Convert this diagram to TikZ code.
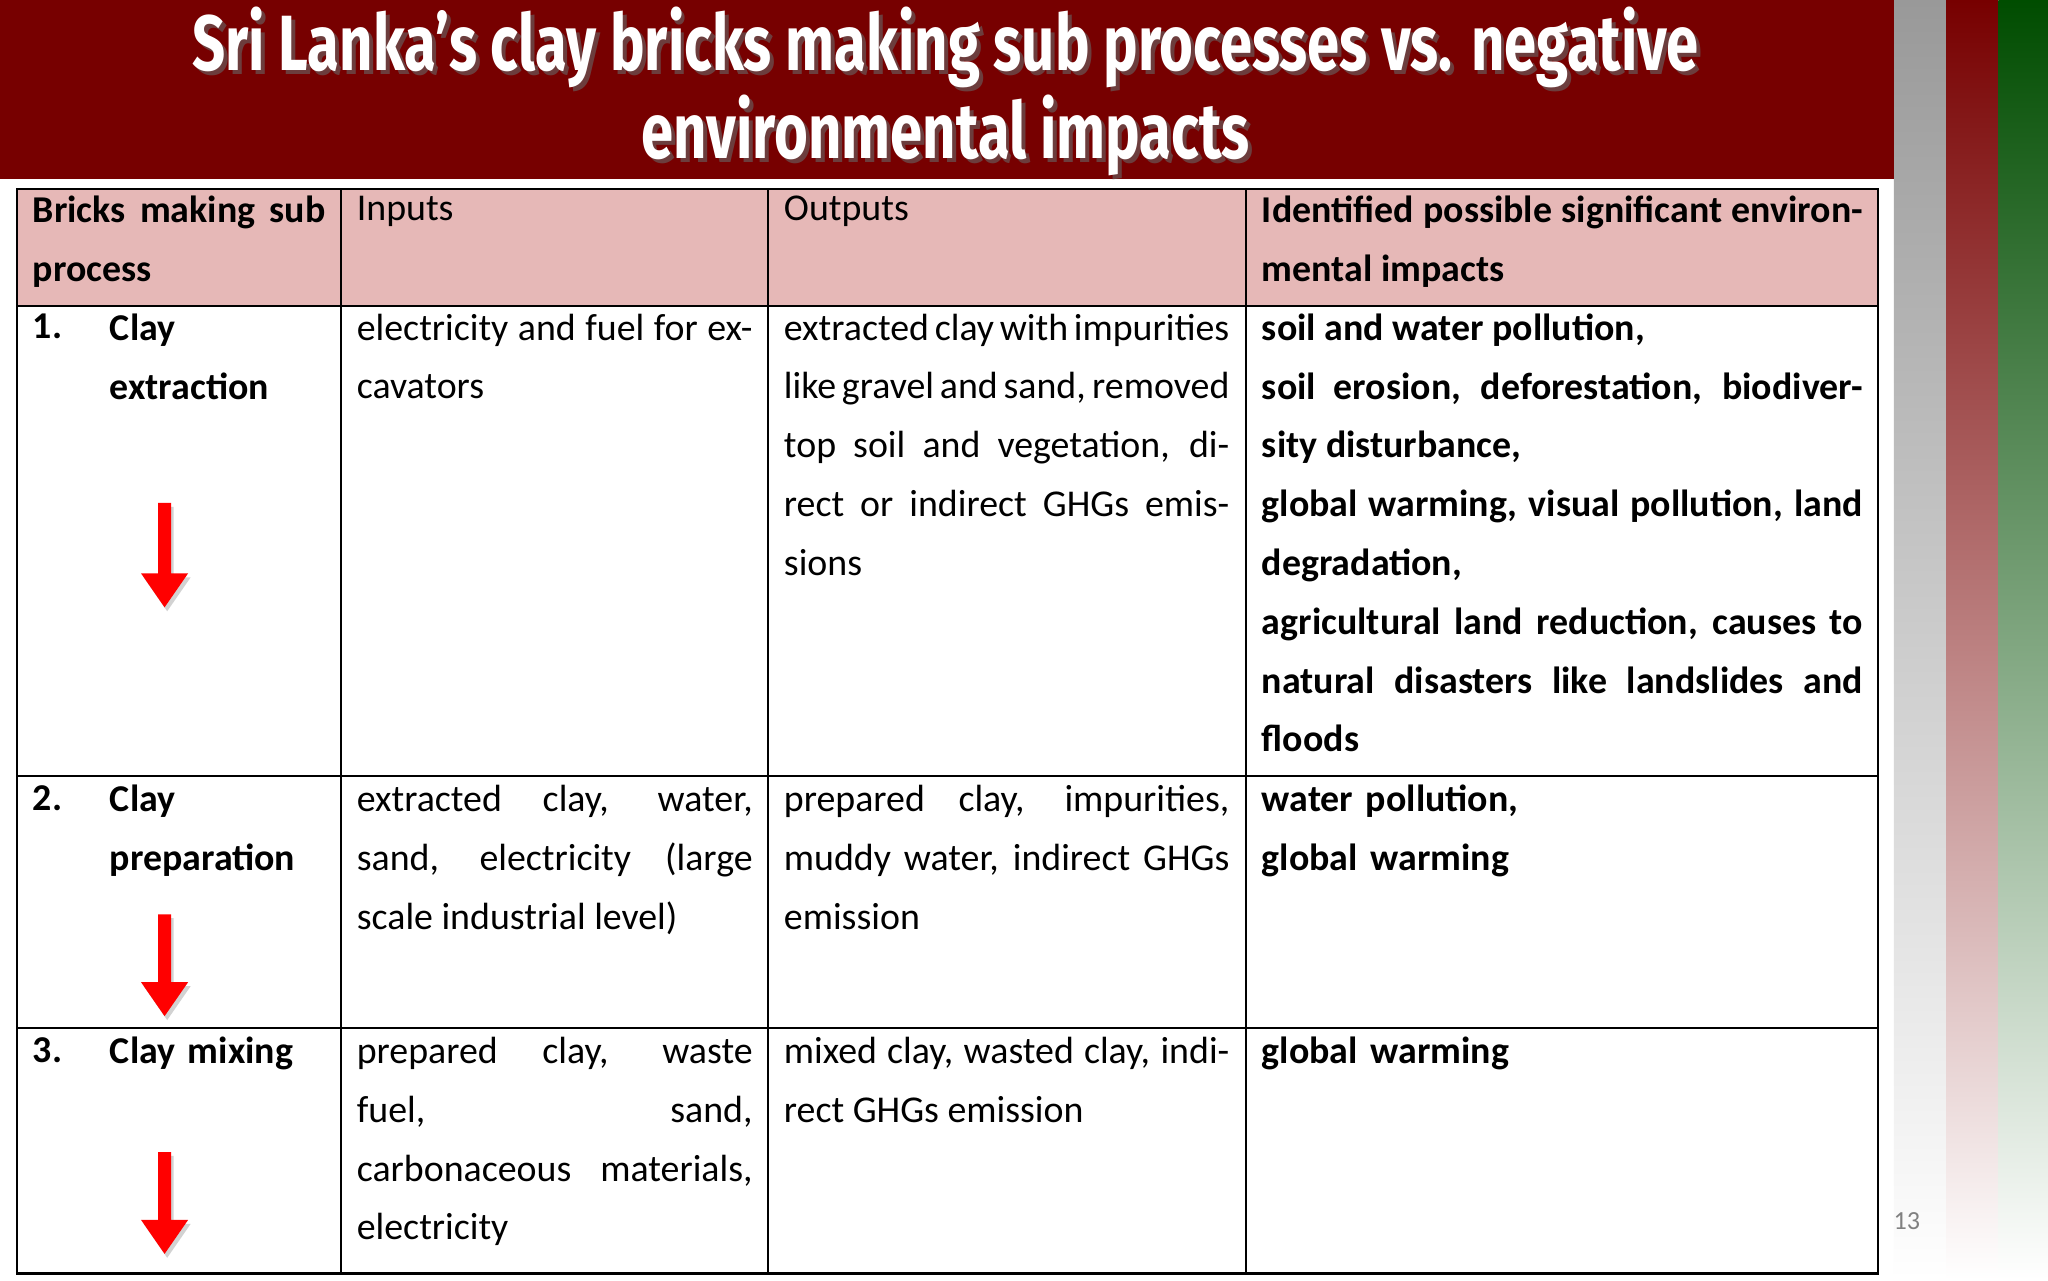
\documentclass[tikz,border=0pt]{standalone}
\usepackage{fontspec}
\setmainfont{Carlito}
\newfontfamily\titlefont[FakeStretch=0.74]{Fira Sans}
\usetikzlibrary{shadows}
\definecolor{titlered}{HTML}{770000}
\definecolor{headpink}{HTML}{E6B8B7}
\tikzset{
 cell/.style={anchor=north west,inner sep=0pt,align=justify,font=\fontsize{29}{45}\selectfont},
 bcell/.style={cell,font=\fontsize{29}{45}\selectfont\bfseries},
 grid/.style={line width=1.6pt,black},
 downarrow/.style={fill=red,draw=none,drop shadow={shadow xshift=2pt,shadow yshift=-3pt,opacity=0.35}},
 titletext/.style={text=white,font=\titlefont\bfseries\fontsize{60}{68}\selectfont,align=center}
}
\begin{document}
\begin{tikzpicture}[x=1pt,y=-1pt]
\useasboundingbox (0,0) rectangle (1568,980);
\fill[white] (0,0) rectangle (1568,980);
% right decorative strips
\shade[top color=gray!80,bottom color=white] (1450,0) rectangle (1490,980);
\shade[top color=titlered,bottom color=white] (1490,0) rectangle (1530,980);
\shade[top color=green!30!black,bottom color=white] (1530,0) rectangle (1568,980);
% title bar
\fill[titlered] (0,0) rectangle (1450,137);
\node[titletext,text=black!60,opacity=0.6] at (727,73) {Sri Lanka’s clay bricks making sub processes vs. negative\\environmental impacts};
\node[titletext] (title) at (724,70) {Sri Lanka’s clay bricks making sub processes vs. negative\\environmental impacts};
% table
\fill[headpink] (13,145) rectangle (1438,234);
\draw[grid] (13,145) rectangle (1438,975);
\foreach \y in {234,594,787} \draw[grid] (13,\y) -- (1438,\y);
\foreach \x in {261,588,954} \draw[grid] (\x,145) -- (\x,975);
% header
\node[bcell,text width=224pt] (h1) at (25,150) {Bricks making sub process};
\node[cell,text width=303pt] (h2) at (273,150) {Inputs};
\node[cell,text width=341pt] (h3) at (600,150) {Outputs};
\node[bcell,text width=460pt] (h4) at (966,150) {Identified possible significant environmental impacts};
% row 1
\node[bcell] (n1) at (25,240) {1.};
\node[bcell,text width=165pt,align=left] (p1) at (84,240) {Clay\\extraction};
\node[cell,text width=303pt] (i1) at (273,240) {electricity and fuel for excavators};
\node[cell,text width=341pt] (o1) at (600,240) {extracted clay with impurities like gravel and sand, removed top soil and vegetation, direct or indirect GHGs emissions};
\node[bcell,text width=460pt] (e1) at (966,240) {soil and water pollution,\\ soil erosion, deforestation, biodiversity disturbance,\\ global warming, visual pollution, land degradation,\\ agricultural land reduction, causes to natural disasters like landslides and floods};
% row 2
\node[bcell] (n2) at (25,601) {2.};
\node[bcell,text width=170pt,align=left] (p2) at (84,601) {Clay\\preparation};
\node[cell,text width=303pt] (i2) at (273,601) {extracted clay, water, sand, electricity (large scale industrial level)};
\node[cell,text width=341pt] (o2) at (600,601) {prepared clay, impurities, muddy water, indirect GHGs emission};
\node[bcell,text width=460pt,align=left] (e2) at (966,601) {water pollution,\\global warming};
% row 3
\node[bcell] (n3) at (25,794) {3.};
\node[bcell,text width=170pt,align=left] (p3) at (84,794) {Clay mixing};
\node[cell,text width=303pt] (i3) at (273,794) {prepared clay, waste fuel,\hfill sand,\break carbonaceous materials, electricity};
\node[cell,text width=341pt] (o3) at (600,794) {mixed clay, wasted clay, indirect GHGs emission};
\node[bcell,text width=460pt,align=left] (e3) at (966,794) {global warming};
% arrows
\foreach \t/\b in {385/465, 700/778, 882/960}{
 \fill[downarrow] (121,\t) -- (131,\t) -- (131,\b-26) -- (144,\b-26) -- (126,\b) -- (108,\b-26) -- (121,\b-26) -- cycle;
}
\node[text=gray,font=\fontsize{20}{24}\selectfont] (pg) at (1460,935) {13};
\end{tikzpicture}
\end{document}
